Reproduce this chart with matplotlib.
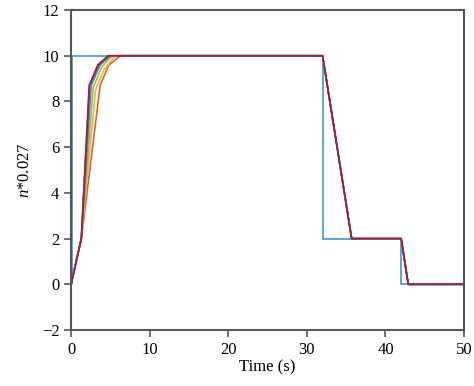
import matplotlib
matplotlib.use("Agg")
import matplotlib.pyplot as plt

# Step reference signal
t_ref = [0, 0.15, 0.15, 32, 32, 42, 42, 50]
v_ref = [0, 0, 10, 10, 2, 2, 0, 0]

# Ramp responses (t, value); shared descent part
t_fall = [32, 35.7, 42, 42.9, 50]
v_fall = [10, 2, 2, 0, 0]

t_s5 = [0, 1.3, 3.7, 4.8, 6.3]
v_s5 = [0, 2, 8.7, 9.6, 10]
t_s4 = [0, 1.3, 3.1, 4.2, 5.6]
v_s4 = [0, 2, 8.5, 9.4, 10]
t_s3 = [0, 1.3, 2.8, 3.9, 5.2]
v_s3 = [0, 2, 8.6, 9.5, 10]
t_s2 = [0, 1.3, 2.55, 3.7, 5.0]
v_s2 = [0, 2, 8.7, 9.6, 10]
t_s1 = [0, 1.3, 2.35, 3.5, 4.8]
v_s1 = [0, 2, 8.7, 9.6, 10]
t_s0 = [0, 1.3, 2.3, 3.4, 4.7]
v_s0 = [0, 2, 8.7, 9.6, 10]

colors = ["#e2611f", "#f0b535", "#8fbf5a", "#4a8fb0", "#5a3f8a", "#a2203e"]
series = [(t_s5, v_s5), (t_s4, v_s4), (t_s3, v_s3), (t_s2, v_s2), (t_s1, v_s1), (t_s0, v_s0)]

plt.rcParams['font.family'] = ['Liberation Serif', 'DejaVu Serif']
plt.rcParams['mathtext.fontset'] = 'custom'
plt.rcParams['mathtext.it'] = 'Liberation Serif:italic'
plt.rcParams['mathtext.rm'] = 'Liberation Serif'
fig = plt.figure(figsize=(4.74, 3.86), dpi=100)
ax = fig.add_axes([0.150, 0.145, 0.829, 0.829])

ax.plot(t_ref, v_ref, color="#3d9ad1", lw=1.2)
for (t, v), c in zip(series, colors):
    ax.plot(t + t_fall, v + v_fall, color=c, lw=1.2)

ax.set_xlim(0, 50)
ax.set_ylim(-2, 12)
ax.set_xticks([0, 10, 20, 30, 40, 50])
ax.set_yticks([-2, 0, 2, 4, 6, 8, 10, 12])
ax.set_yticklabels(["\u22122", "0", "2", "4", "6", "8", "10", "12"])
ax.tick_params(direction='out', length=5, width=1.2, color="#555555", labelsize=12, top=False, right=False)
for s in ax.spines.values():
    s.set_color("#555555")
    s.set_linewidth(1.5)
ax.set_xlabel("Time (s)", fontsize=12, labelpad=1)
ax.set_ylabel(r"$n$*0.027", fontsize=12, labelpad=6)
fig.savefig("out.png", dpi=100)
